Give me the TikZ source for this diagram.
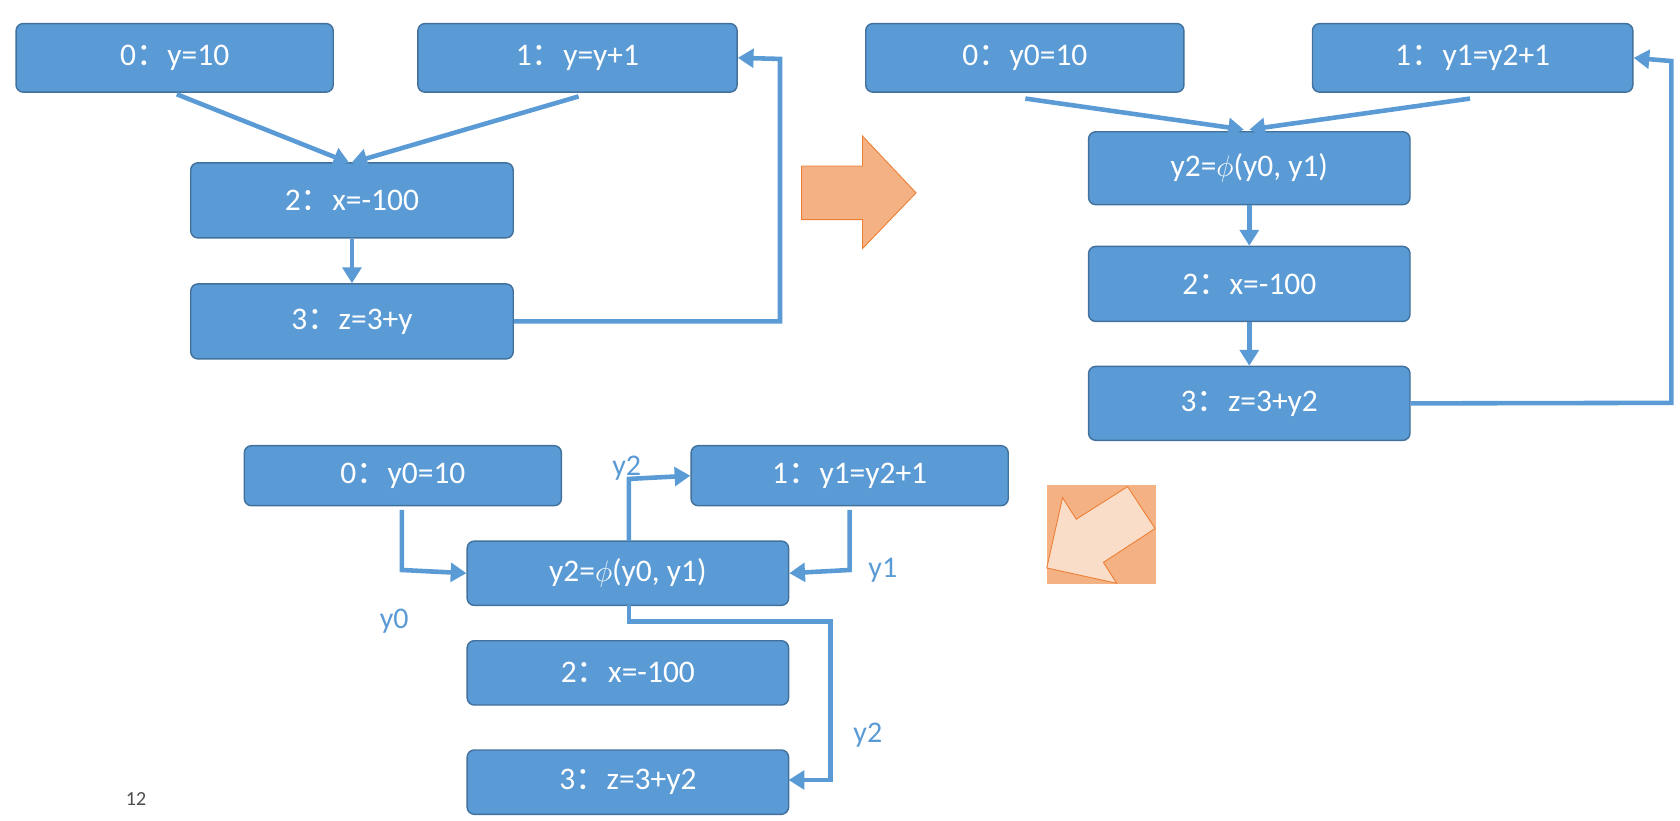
\documentclass[tikz,border=0pt]{standalone}
\usepackage{fontspec}
\setmainfont{Carlito}
\newfontfamily\cjk{Noto Sans CJK SC}
\usetikzlibrary{arrows.meta}
\definecolor{bfill}{HTML}{5B9BD5}
\definecolor{bdraw}{HTML}{41719C}
\definecolor{ofill}{HTML}{F4B183}
\definecolor{odraw}{HTML}{ED7D31}
\newcommand{\cc}{{\cjk ：}}
\begin{document}
\begin{tikzpicture}[x=0.75pt,y=-0.75pt,
  box/.style={draw=bdraw,line width=1pt,fill=bfill,rounded corners=5pt,text=white,font=\fontsize{22}{24}\selectfont,inner sep=0pt},
  con/.style={draw=bfill,line width=3.2pt,-{Triangle[length=11pt,width=13pt]}},
  lab/.style={text=bfill,font=\fontsize{21}{23}\selectfont}]
\useasboundingbox (0,0) rectangle (1568,766);
\newcommand{\bx}[6]{\node[box,minimum width={(#3-#2)*0.75pt},minimum height={(#5-#4)*0.75pt}] (#1) at ({(#2+#3)/2},{(#4+#5)/2}) {#6};}
% top-left
\bx{a0}{15}{311}{22}{86}{0\cc y=10}
\bx{a1}{390}{688}{22}{86}{1\cc y=y+1}
\bx{a2}{178}{479}{152}{222}{2\cc x=-100}
\bx{a3}{178}{479}{265}{335}{3\cc z=3+y}
\draw[con] (165,88) -- (326,152);
\draw[con] (540,90) -- (328,152);
\draw[con] (a2.south) -- (a3.north);
\draw[con] (a3.east) -- (728,300) -- (728,55) -- (a1.east);
% orange arrow
\fill[ofill,draw=odraw,line width=0.6pt] (748,155) -- (805,155) -- (805,127) -- (855,180) -- (805,232) -- (805,205) -- (748,205) -- cycle;
% top-right
\bx{b0}{808}{1105}{22}{86}{0\cc y0=10}
\bx{b1}{1225}{1524}{22}{86}{1\cc y1=y2+1}
\bx{bp}{1016}{1316}{123}{191}{y2=$\phi$(y0, y1)}
\bx{b2}{1016}{1316}{230}{300}{2\cc x=-100}
\bx{b3}{1016}{1316}{342}{411}{3\cc z=3+y2}
\draw[con] (957,92) -- (1161,121);
\draw[con] (1372,92) -- (1166,121);
\draw[con] (bp.south) -- (b2.north);
\draw[con] (b2.south) -- (b3.north);
\draw[con] (b3.east) -- (1560,376) -- (1560,57) -- (b1.east);
% bottom
\bx{c0}{228}{524}{416}{472}{0\cc y0=10}
\bx{c1}{645}{941}{416}{472}{1\cc y1=y2+1}
\bx{cp}{436}{736}{505}{565}{y2=$\phi$(y0, y1)}
\bx{c2}{436}{736}{598}{658}{2\cc x=-100}
\bx{c3}{436}{736}{700}{760}{3\cc z=3+y2}
\draw[con] (375,476) -- (375,532) -- (cp.west);
\draw[con] (793,476) -- (793,532) -- (cp.east);
\draw[con] (587,505) -- (587,447) -- (c1.west);
\draw[con] (587,565) -- (587,580) -- (775,580) -- (775,728) -- (736,728);
\node[lab] (l0) at (368,580) {y0};
\node[lab] (l1) at (824,532) {y1};
\node[lab] (l2) at (585,437) {y2};
\node[lab] (l3) at (810,686) {y2};
% rotated arrow
\fill[ofill] (977,453) rectangle (1079,545);
\draw[odraw,line width=0.6pt,fill=ofill!85!odraw!40] (991.7,464.5) -- (1004.5,484.6) -- (1052.4,454.2) -- (1078.1,493.3) -- (1029.8,524.9) -- (1042.3,544.4) -- (977,530.1) -- cycle;
\node[font=\fontsize{14}{16}\selectfont,text=black!70] (pg) at (127,746) {12};
\end{tikzpicture}
\end{document}
